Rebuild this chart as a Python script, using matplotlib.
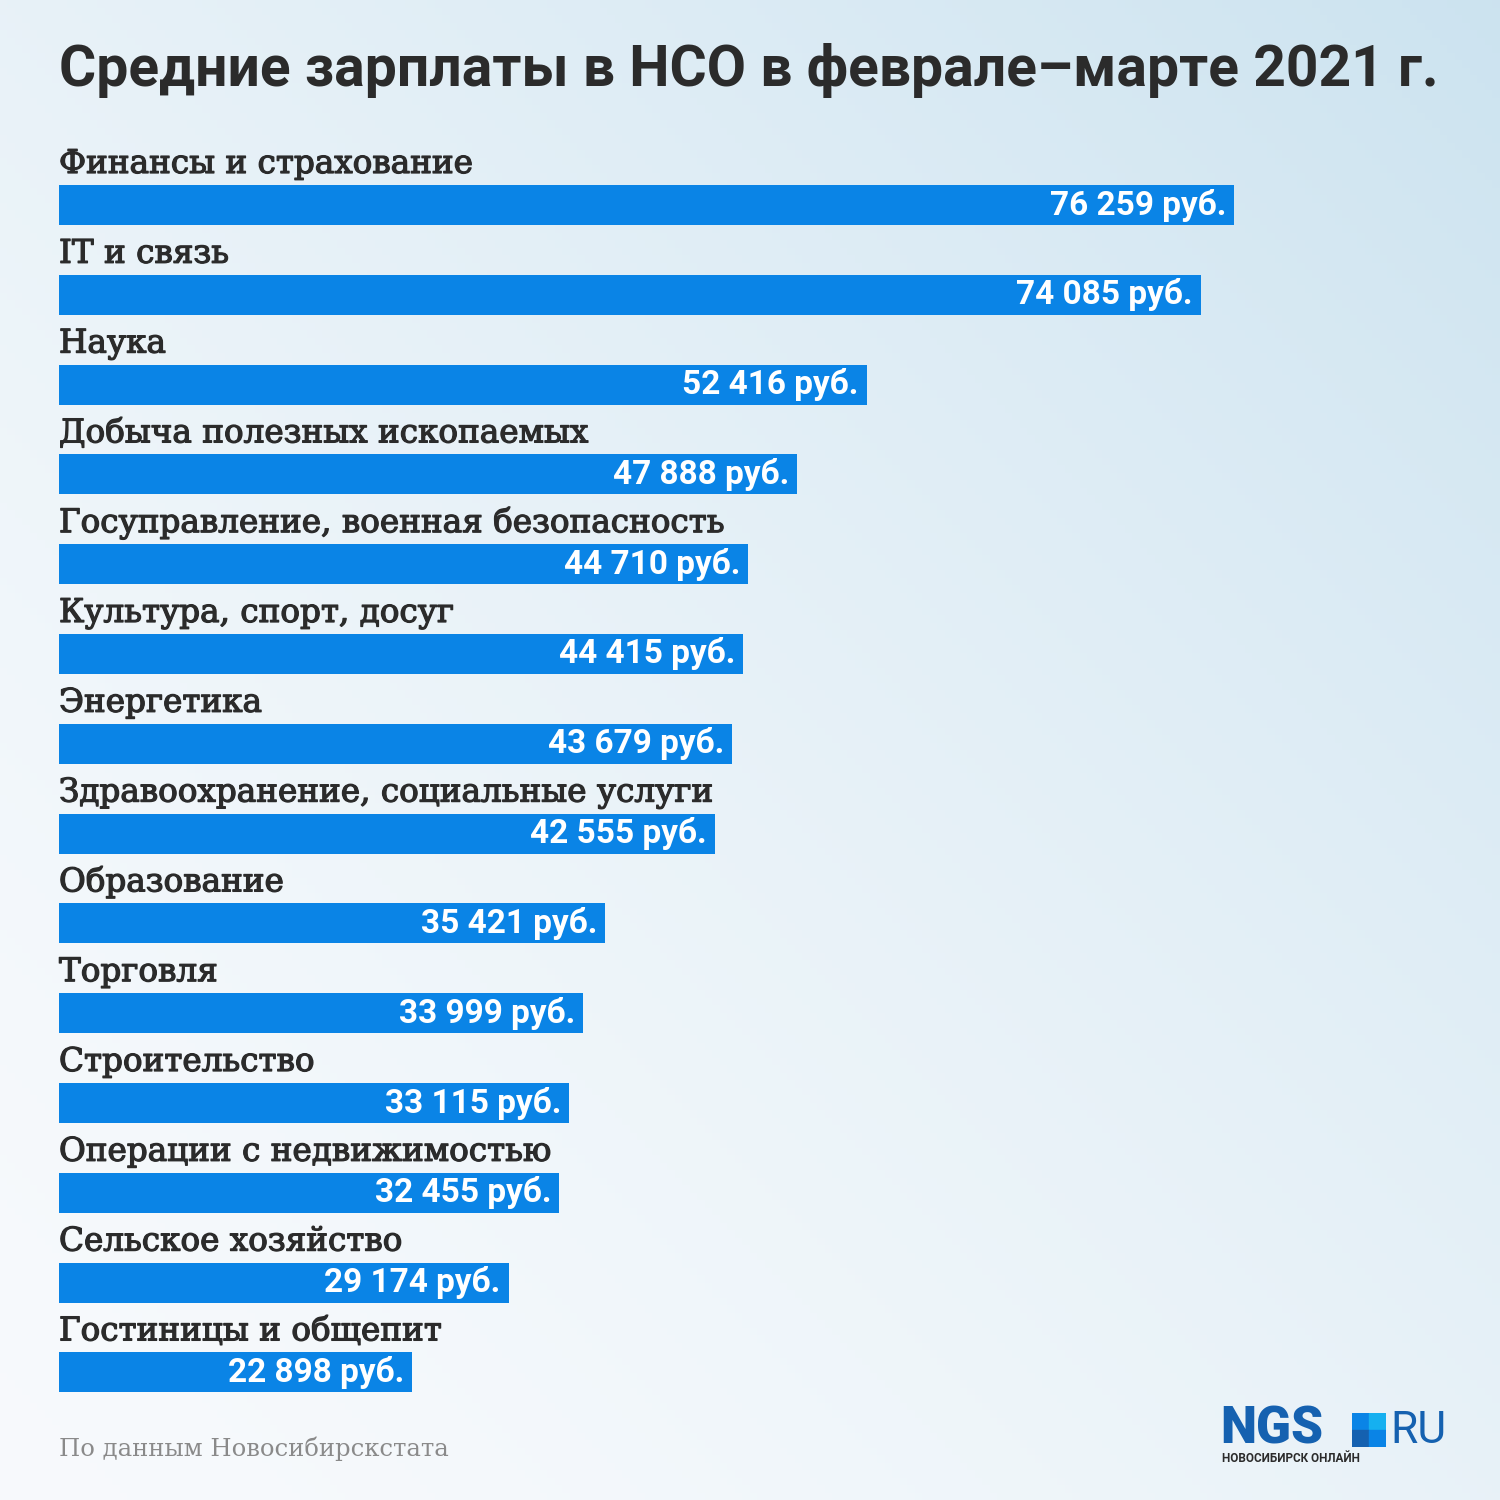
import numpy as np
import matplotlib.pyplot as plt
import matplotlib.patheffects as pe
from matplotlib.patches import Rectangle

categories = ["Финансы и страхование", "IT и связь", "Наука", "Добыча полезных ископаемых",
              "Госуправление, военная безопасность", "Культура, спорт, досуг", "Энергетика",
              "Здравоохранение, социальные услуги", "Образование", "Торговля", "Строительство",
              "Операции с недвижимостью", "Сельское хозяйство", "Гостиницы и общепит"]
values = [76259, 74085, 52416, 47888, 44710, 44415, 43679, 42555, 35421, 33999, 33115,
          32455, 29174, 22898]

W = H = 1500
fig = plt.figure(figsize=(15, 15), dpi=100)
# background gradient: light blue top-right to near white bottom-left
bg = fig.add_axes([0, 0, 1, 1])
yy, xx = np.mgrid[0:1:200j, 0:1:200j]
t = np.clip((xx + yy) / 2, 0, 1)
c0 = np.array([0.97, 0.98, 0.99])
c1 = np.array([0.80, 0.89, 0.94])
img = c0 + (c1 - c0) * t[..., None] ** 1.5
bg.imshow(img, origin="lower", extent=[0, 1, 0, 1], aspect="auto")
bg.axis("off")

ax = fig.add_axes([59 / W, 0, 1 - 59 / W, 1])
ax.set_xlim(0, 76259 * (W - 59) / (1234 - 59))
ax.set_ylim(H, 0)
ax.axis("off")

stroke = [pe.withStroke(linewidth=0.9, foreground="#2b2b2b")]
for i, (cat, v) in enumerate(zip(categories, values)):
    top = 185 + i * 89.8
    ax.barh(top + 20, v, height=40, color="#0a84e6", left=0)
    ax.text(0, top - 5, cat, fontsize=23.5, family="DejaVu Serif", color="#2b2b2b",
            va="bottom", ha="left", path_effects=stroke)
    ax.text(v - 500, top + 20, f"{v:,} руб.".replace(",", " "), fontsize=24, fontweight="bold",
            family="Roboto", color="white", va="center", ha="right")

fig.text(59 / W, 1 - 70 / H, "Средние зарплаты в НСО в феврале–марте 2021 г.", fontsize=41,
         fontweight="bold", family="Roboto", color="#2b2b2b", va="center", ha="left")
fig.text(59 / W, 1 - 1449 / H, "По данным Новосибирскстата", fontsize=17.5, family="DejaVu Serif",
         color="#8a8a8a", va="center", ha="left")

# logo
fig.text(1220 / W, 1 - 1430 / H, "NGS", fontsize=37, fontweight="black", family="Roboto",
         color="#1561b0", va="center", ha="left")
sq = fig.add_axes([1352 / W, 1 - 1447 / H, 34 / W, 34 / H])
sq.add_patch(Rectangle((0, 0.5), 0.5, 0.5, color="#0a84e6"))
sq.add_patch(Rectangle((0.5, 0.5), 0.5, 0.5, color="#15b0f0"))
sq.add_patch(Rectangle((0, 0), 0.5, 0.5, color="#1561b0"))
sq.add_patch(Rectangle((0.5, 0), 0.5, 0.5, color="#0a84e6"))
sq.set_xlim(0, 1); sq.set_ylim(0, 1); sq.axis("off")
fig.text(1390 / W, 1 - 1431 / H, "RU", fontsize=32, family="Roboto", color="#1561b0",
         va="center", ha="left")
fig.text(1222 / W, 1 - 1459 / H, "НОВОСИБИРСК ОНЛАЙН", fontsize=8.5, fontweight="bold",
         family="Roboto", color="#2b2b2b", va="center", ha="left")

fig.savefig("out.png", dpi=100)
